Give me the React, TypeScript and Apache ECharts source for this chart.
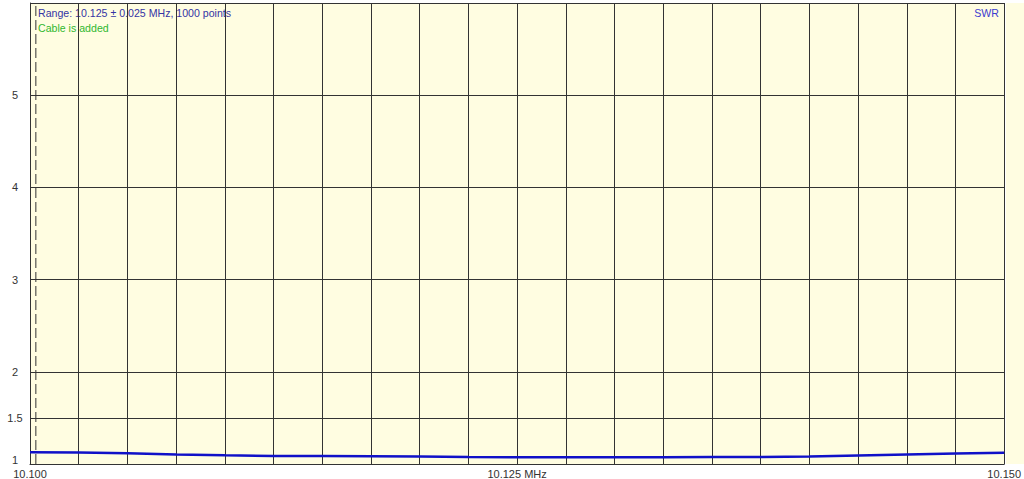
import { useEffect, useRef } from 'react'
import * as echarts from 'echarts'

// ─── data ───
const FREQ_MHZ = [
  10.1, 10.1025, 10.105, 10.1075, 10.11, 10.1125, 10.115, 10.1175, 10.12, 10.1225, 10.125,
  10.1275, 10.13, 10.1325, 10.135, 10.1375, 10.14, 10.1425, 10.145, 10.1475, 10.15,
]
const SWR = [
  1.127, 1.124, 1.116, 1.104, 1.094, 1.087, 1.086, 1.084, 1.08, 1.075, 1.073,
  1.073, 1.073, 1.074, 1.075, 1.076, 1.08, 1.092, 1.104, 1.115, 1.123,
]
const Y_LABELS = ['1', '1.5', '2', '3', '4', '5']
const X_LABELS: Record<number, string> = { 0: '10.100', 10: '10.125 MHz', 20: '10.150' }
const MARKER_MHZ = 10.1003
const MARKER_SWR = [1, 6]

const FONT = 'Arial, "Liberation Sans", sans-serif'
const GRID_COLOR = '#333333'
const BG = '#fffde1'

export default function App() {
  const ref = useRef<HTMLDivElement>(null)

  useEffect(() => {
    if (!ref.current) return
    const chart = echarts.init(ref.current, undefined, { renderer: 'svg' })

    // y split lines: only at 1, 1.5, 2, 3, 4, 5, 6
    const yLineColors = [1, 1.5, 2, 2.5, 3, 3.5, 4, 4.5, 5, 5.5, 6].map(v =>
      v >= 2 && v % 1 !== 0 ? 'transparent' : GRID_COLOR,
    )

    chart.setOption({
      animation: false,
      backgroundColor: '#ffffff',
      grid: { left: 30, right: 18, top: 3, bottom: 15, show: true, backgroundColor: BG, borderWidth: 0 },
      graphic: [
        { type: 'rect', shape: { x: 1006, y: 3, width: 18, height: 461 }, style: { fill: BG } },
        {
          type: 'text', x: 38, y: 13,
          style: { text: 'Range: 10.125 ± 0.025 MHz, 1000 points', fill: '#3434a4', font: `10.6px ${FONT}`, verticalAlign: 'middle' },
        },
        {
          type: 'text', x: 38, y: 28,
          style: { text: 'Cable is added', fill: '#2fb82f', font: `10.6px ${FONT}`, verticalAlign: 'middle' },
        },
        {
          type: 'text', x: 999, y: 13,
          style: { text: 'SWR', fill: '#3c3cd0', font: `10.6px ${FONT}`, align: 'right', verticalAlign: 'middle' },
        },
      ],
      xAxis: {
        type: 'value', min: 10.1, max: 10.15, interval: 0.0025,
        axisLine: { show: true, lineStyle: { color: GRID_COLOR, width: 1 } },
        axisTick: { show: false },
        splitLine: { show: true, lineStyle: { color: GRID_COLOR, width: 1 } },
        axisLabel: {
          margin: 4, fontSize: 11, fontFamily: FONT, color: '#333',
          formatter: (v: number) => X_LABELS[Math.round((v - 10.1) / 0.0025)] ?? '',
        },
      },
      yAxis: {
        type: 'value', min: 1, max: 6, interval: 0.5,
        axisLine: { show: true, lineStyle: { color: GRID_COLOR, width: 1 } },
        axisTick: { show: false },
        splitLine: { show: true, lineStyle: { color: yLineColors, width: 1 } },
        axisLabel: {
          margin: 15, align: 'center', fontSize: 11, fontFamily: FONT, color: '#333',
          formatter: (v: number) => {
            const s = String(Math.round(v * 10) / 10)
            if (s === '1') return '{low|1}'
            return Y_LABELS.includes(s) ? s : ''
          },
          rich: { low: { fontSize: 11, fontFamily: FONT, color: '#333', padding: [0, 0, 8, 0] } },
        },
      },
      series: [
        {
          type: 'line',
          data: MARKER_SWR.map(v => [MARKER_MHZ, v]),
          showSymbol: false,
          silent: true,
          z: 1,
          lineStyle: { color: GRID_COLOR, width: 1, type: [10, 4] },
        },
        {
          type: 'line',
          data: FREQ_MHZ.map((f, i) => [f, SWR[i]]),
          showSymbol: false,
          z: 3,
          lineStyle: { color: '#1010c8', width: 2.5 },
        },
      ],
    })

    return () => chart.dispose()
  }, [])

  return (
    <div
      ref={ref}
      style={{ position: 'absolute', left: 0, top: 0, width: 1024, height: 479 }}
    />
  )
}
